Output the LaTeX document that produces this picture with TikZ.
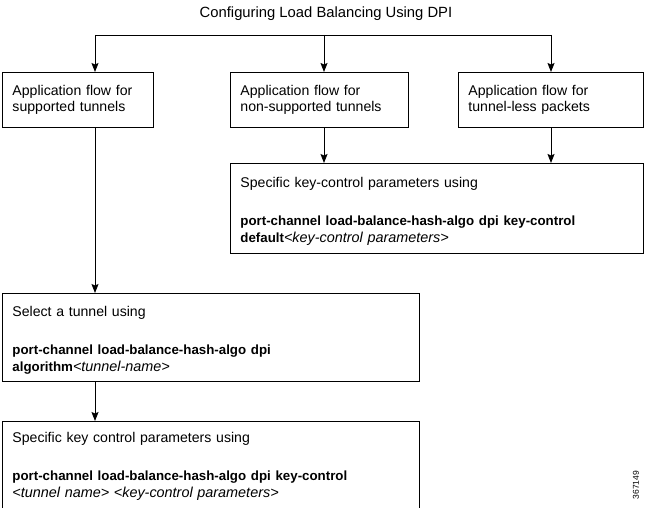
\documentclass[tikz,border=0pt]{standalone}
\usepackage{fontspec}
\setmainfont{Liberation Sans}
\usetikzlibrary{arrows.meta}
\newcommand{\bl}[1]{{\fontsize{13.3}{17}\selectfont\bfseries #1}}
\newcommand{\itx}[1]{{\fontsize{14.4}{17}\selectfont\itshape #1}}
\newcommand{\topgap}{\rule{0pt}{16.3pt}}
\begin{document}
\begin{tikzpicture}[x=1pt,y=-1pt,
  every node/.style={font=\fontsize{14.1}{16.5}\selectfont},
  box/.style={draw, line width=0.9pt, rectangle, align=left, inner xsep=10pt, inner ysep=0pt, anchor=north west},
  bigbox/.style={box, font=\fontsize{14.1}{17}\selectfont},
  arr/.style={line width=0.9pt, -{Stealth[length=9pt,width=7pt,inset=1.5pt]}},
  ln/.style={line width=0.9pt}]
\useasboundingbox (0,0) rectangle (650,508);
\node[font=\fontsize{14.8}{16}\selectfont] (title) at (326,14) {Configuring Load Balancing Using DPI};
\node[box, minimum width=151pt, minimum height=55pt, text width=131pt] (b1) at (2,72) {Application flow for\\supported tunnels};
\node[box, minimum width=178pt, minimum height=55pt, text width=158pt] (b2) at (230,72) {Application flow for\\non-supported tunnels};
\node[box, minimum width=185pt, minimum height=55pt, text width=165pt] (b3) at (458,72) {Application flow for\\tunnel-less packets};
\node[bigbox, minimum width=413pt, minimum height=90pt, text width=393pt] (kc) at (230,163) {\topgap Specific key-control parameters using\\[21pt]\bl{port-channel load-balance-hash-algo dpi key-control}\\\bl{default}\itx{<key-control parameters>}};
\node[bigbox, minimum width=417pt, minimum height=88pt, text width=397pt] (sel) at (2,293) {\rule{0pt}{15.3pt}Select a tunnel using\\[21pt]\bl{port-channel load-balance-hash-algo dpi}\\\bl{algorithm}\itx{<tunnel-name>}};
\node[bigbox, minimum width=417pt, minimum height=89pt, text width=397pt] (kc2) at (2,421) {Specific key control parameters using\\[21pt]\bl{port-channel load-balance-hash-algo dpi key-control}\\\itx{<tunnel name> <key-control parameters>}};
\node[font=\fontsize{8.5}{9}\selectfont, rotate=90] (id) at (636,485) {367149};
\coordinate (j1) at (95,35);
\coordinate (j2) at (324,35);
\coordinate (j3) at (551,35);
\draw[ln] (j1) -- (j3);
\draw[arr] (j1) -- (j1 |- b1.north);
\draw[arr] (j2) -- (j2 |- b2.north);
\draw[arr] (j3) -- (j3 |- b3.north);
\draw[arr] (j1 |- b1.south) -- (j1 |- sel.north);
\draw[arr] (j2 |- b2.south) -- (j2 |- kc.north);
\draw[arr] (j3 |- b3.south) -- (j3 |- kc.north);
\draw[arr] (j1 |- sel.south) -- (j1 |- kc2.north);
\end{tikzpicture}
\end{document}
